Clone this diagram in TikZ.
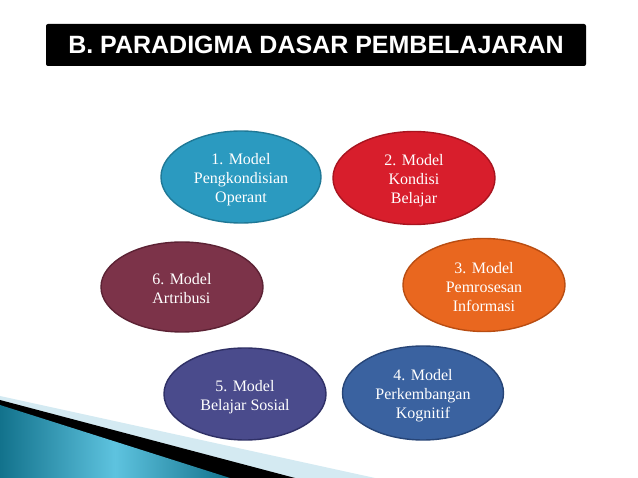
\documentclass[tikz,border=0pt]{standalone}
\usepackage{fontspec}
\setmainfont{Liberation Serif}
\newfontfamily\titlefont{Liberation Sans}
\usetikzlibrary{shapes.geometric}
\definecolor{cA}{HTML}{2B9AC0}\definecolor{bA}{HTML}{1F7896}
\definecolor{cB}{HTML}{D81E2C}\definecolor{bB}{HTML}{A8141F}
\definecolor{cC}{HTML}{E9671F}\definecolor{bC}{HTML}{B94D12}
\definecolor{cD}{HTML}{3A62A0}\definecolor{bD}{HTML}{274577}
\definecolor{cE}{HTML}{4A4B8C}\definecolor{bE}{HTML}{2F3066}
\definecolor{cF}{HTML}{7C3349}\definecolor{bF}{HTML}{5C2234}
\definecolor{paleblue}{HTML}{D4EAF2}
\definecolor{tealdark}{HTML}{12728C}
\definecolor{teallight}{HTML}{5EC3DF}
\tikzset{
  oval/.style={ellipse, inner sep=0pt, line width=1.4pt,
    minimum width=162pt, minimum height=92pt},
  ovaltext/.style={inner sep=0pt, text=white,
    font=\fontsize{16}{19}\selectfont, align=center},
}
\begin{document}
\begin{tikzpicture}[x=1pt,y=-1pt]
\useasboundingbox (0,0) rectangle (638,478);
\fill[white] (0,0) rectangle (638,478);
% bottom-left decoration
\fill[paleblue] (0,396) -- (375,478) -- (0,478) -- cycle;
\fill[black] (0,400) -- (295,478) -- (0,478) -- cycle;
\shade[left color=tealdark, right color=tealdark, middle color=teallight] (0,405) -- (230,478) -- (0,478) -- cycle;
% title
\node[fill=black, rounded corners=2pt, minimum width=540pt, minimum height=42pt, inner sep=0pt,
  text=white, font=\titlefont\bfseries\fontsize{25}{28}\selectfont] (title) at (316,45) {B. PARADIGMA DASAR PEMBELAJARAN};
% ellipses
\node[oval, fill=cA, draw=bA, minimum width=160pt] (m1) at (241,177) {};
\node[oval, fill=cB, draw=bB, minimum height=93pt] (m2) at (414,178) {};
\node[oval, fill=cC, draw=bC, minimum height=93pt] (m3) at (484,285) {};
\node[oval, fill=cD, draw=bD, minimum width=161pt, minimum height=94pt] (m4) at (423,393) {};
\node[oval, fill=cE, draw=bE] (m5) at (245,394) {};
\node[oval, fill=cF, draw=bF, minimum height=90pt] (m6) at (182,287) {};
% texts
\node[ovaltext] (t1) at ([yshift=-2.5pt]m1.center) {1. Model\\Pengkondisian\\Operant};
\node[ovaltext] (t2) at ([yshift=-2.5pt]m2.center) {2. Model\\Kondisi\\Belajar};
\node[ovaltext] (t3) at ([yshift=-2pt]m3.center) {3. Model\\Pemrosesan\\Informasi};
\node[ovaltext] (t4) at ([yshift=-3pt]m4.center) {4. Model\\Perkembangan\\Kognitif};
\node[ovaltext] (t5) at ([yshift=-3pt]m5.center) {5. Model\\Belajar Sosial};
\node[ovaltext, align=left] (t6) at ([yshift=-2pt]m6.center) {6. Model\\Artribusi};
\end{tikzpicture}
\end{document}
